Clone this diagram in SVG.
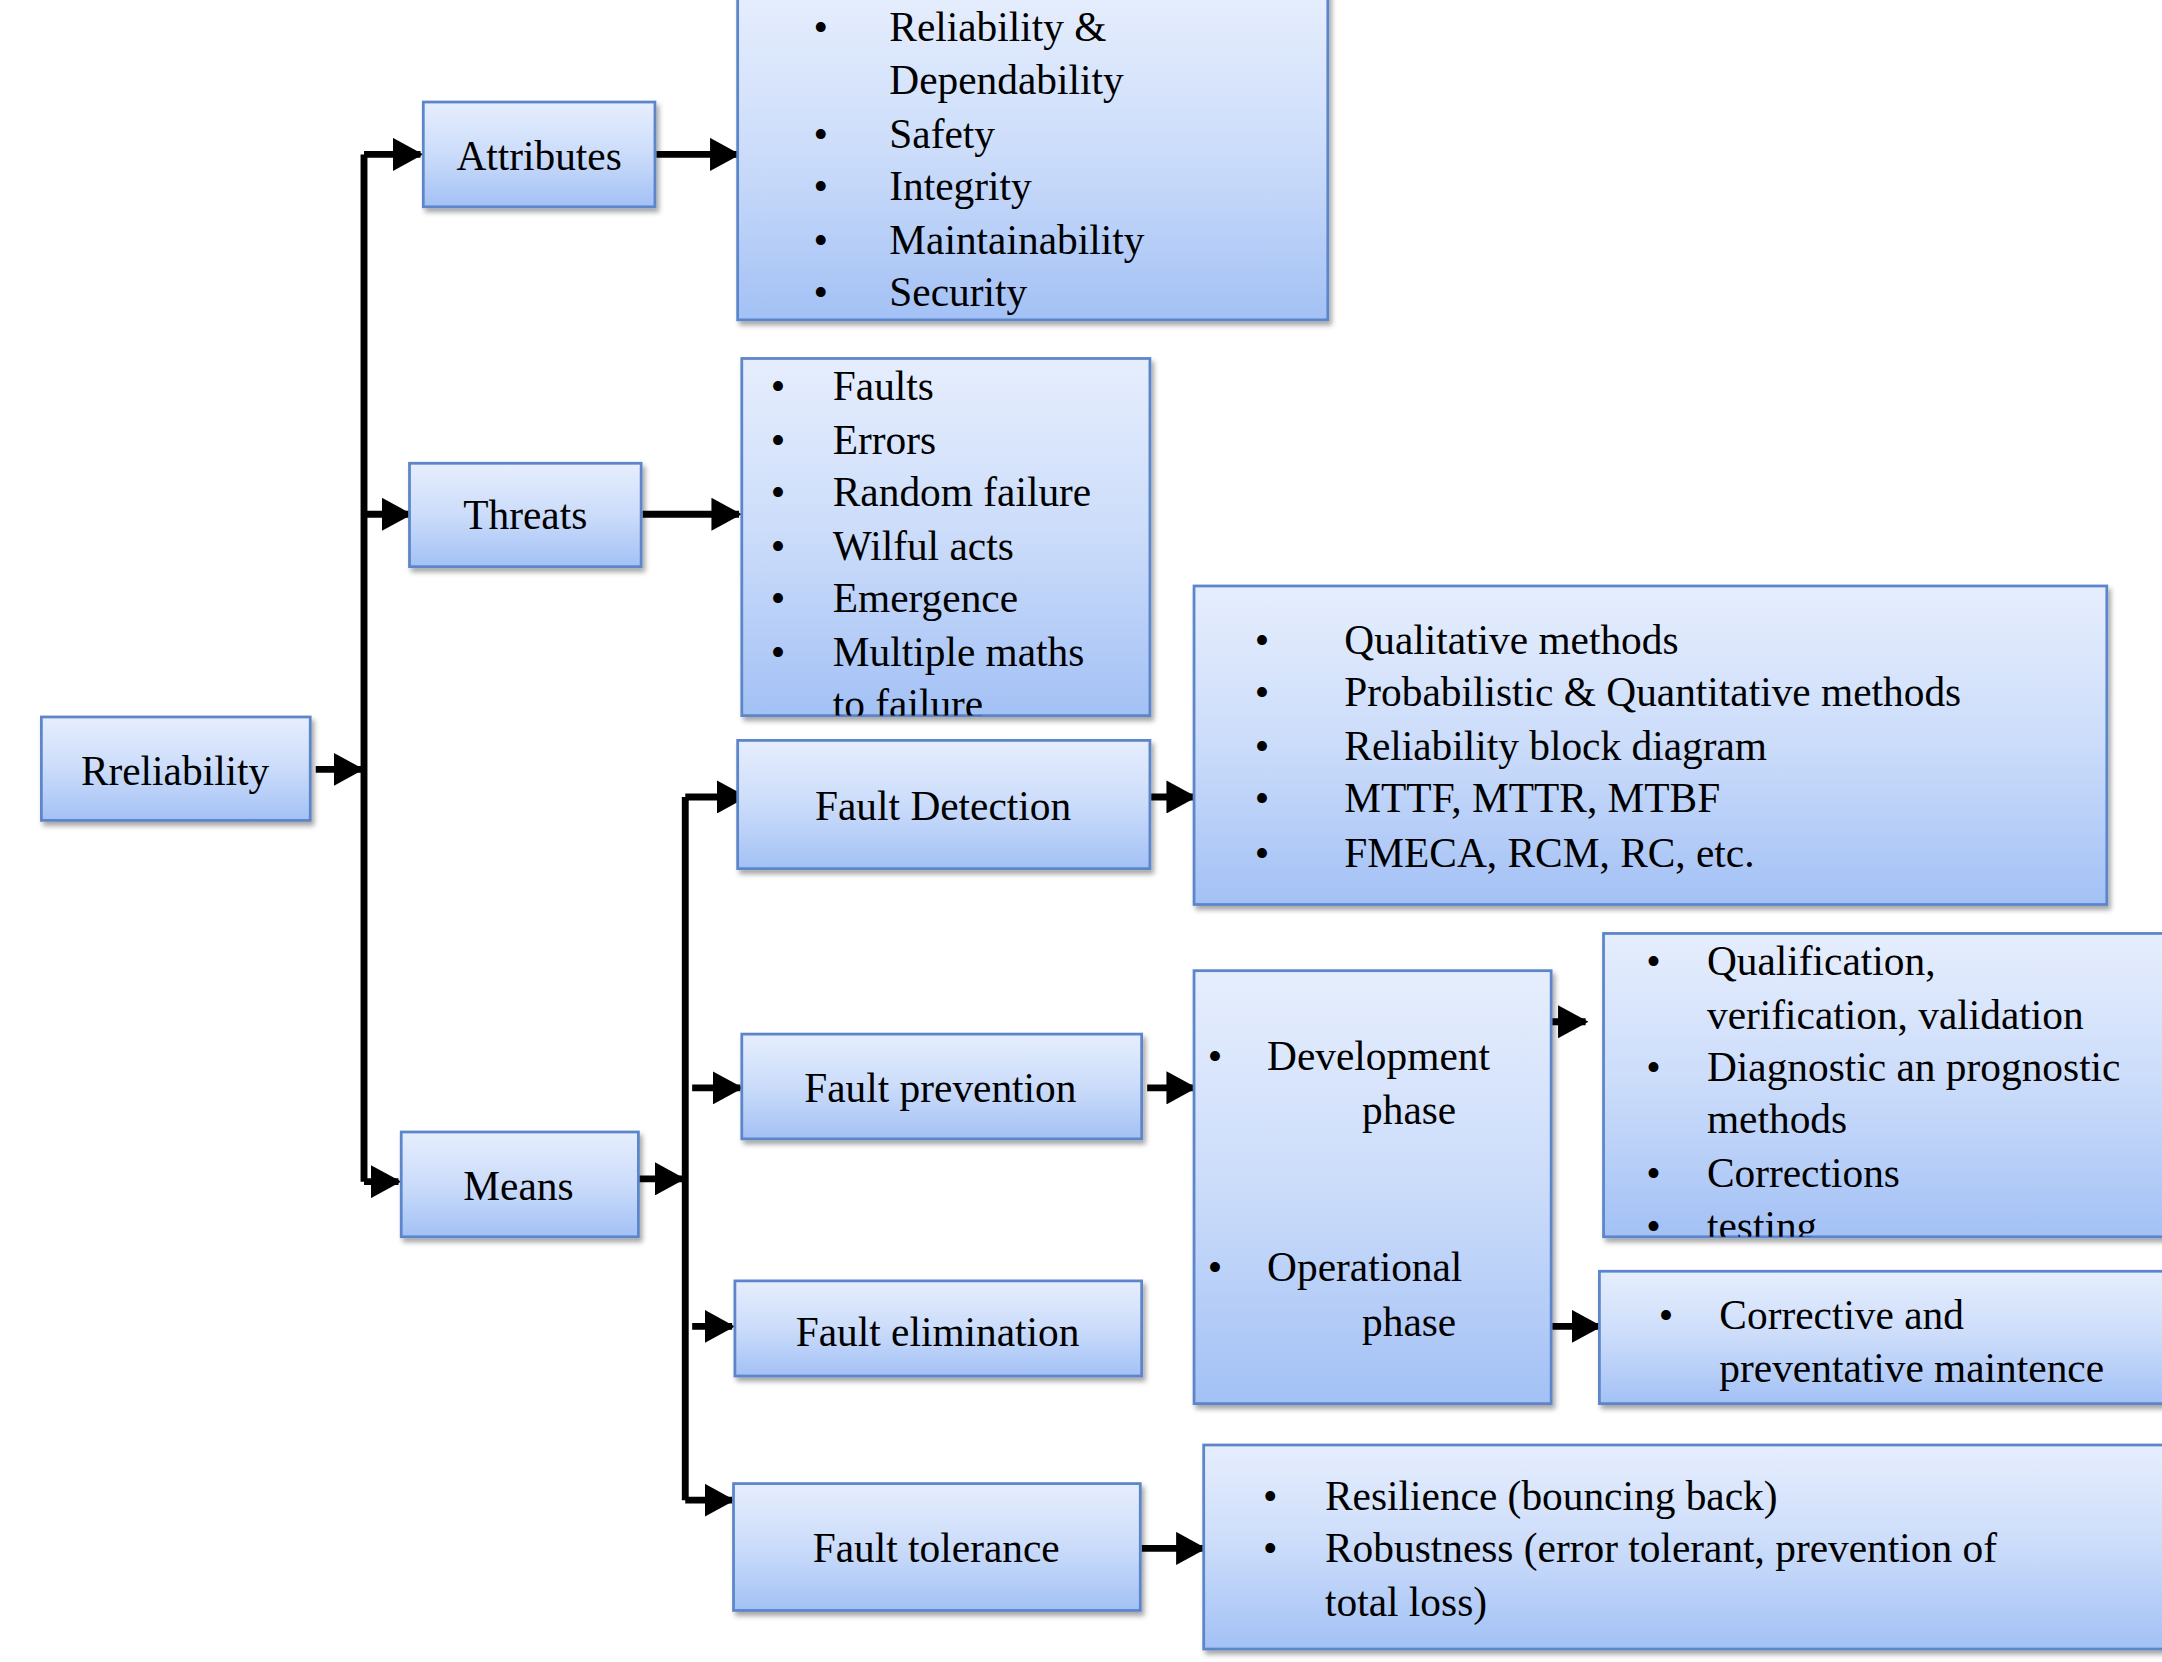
<svg xmlns="http://www.w3.org/2000/svg" width="2162" height="1662" viewBox="0 0 2162 1662">
<defs>
<linearGradient id="g" x1="0" y1="0" x2="0" y2="1"><stop offset="0" stop-color="#e6eefd"/><stop offset="0.5" stop-color="#cbdcfa"/><stop offset="1" stop-color="#a3c1f5"/></linearGradient>
<filter id="sh" x="-5%" y="-5%" width="115%" height="120%"><feDropShadow dx="2" dy="3" stdDeviation="2" flood-color="#000" flood-opacity="0.35"/></filter>
<marker id="ah" markerUnits="userSpaceOnUse" markerWidth="22" markerHeight="24" refX="20" refY="12" orient="auto"><path d="M0,0 L22,12 L0,24 Z" fill="#000"/></marker>
<clipPath id="cThr"><rect x="538" y="260" width="296" height="259"/></clipPath>
<clipPath id="cQual"><rect x="1163" y="677" width="420" height="220"/></clipPath>
</defs>
<style>
.b{fill:url(#g);stroke:#5b86c9;stroke-width:2;filter:url(#sh)}
text{font-family:"Liberation Serif","Times New Roman",serif;font-size:30px;fill:#000}
.c{text-anchor:middle}
.l{fill:none;stroke:#000;stroke-width:5}
.a{fill:none;stroke:#000;stroke-width:5;marker-end:url(#ah)}
</style>
<g transform="scale(1.3788)">
<g id="connectors">
<path class="l" d="M264,112 V857"/>
<path class="a" d="M264,112 H305"/>
<path class="a" d="M264,373 H297"/>
<path class="a" d="M264,857 H289"/>
<path class="a" d="M229,558 H262"/>
<path class="a" d="M476,112 H535"/>
<path class="a" d="M466,373 H536"/>
<path class="a" d="M463,855 H495"/>
<path class="l" d="M497,578 V1088"/>
<path class="a" d="M497,578 H540"/>
<path class="a" d="M502,789 H537"/>
<path class="a" d="M502,962 H531"/>
<path class="a" d="M497,1088 H531"/>
<path class="a" d="M834,578 H866"/>
<path class="a" d="M832,789 H866"/>
<path class="a" d="M1091,741 H1150"/>
<path class="a" d="M1102,962 H1160"/>
<path class="a" d="M828,1123 H873"/>
</g>
<g id="rreliability"><rect class="b" x="30" y="520" width="195" height="75"/><text class="c" x="127" y="569">Rreliability</text></g>
<g id="attributes"><rect class="b" x="307" y="74" width="168" height="76"/><text class="c" x="391" y="123">Attributes</text></g>
<g id="attr-list"><rect class="b" x="535" y="-5" width="428" height="237"/>
<text x="590" y="30">•</text><text x="645" y="30">Reliability &amp;</text>
<text x="645" y="68">Dependability</text>
<text x="590" y="107">•</text><text x="645" y="107">Safety</text>
<text x="590" y="145">•</text><text x="645" y="145">Integrity</text>
<text x="590" y="184">•</text><text x="645" y="184">Maintainability</text>
<text x="590" y="222">•</text><text x="645" y="222">Security</text></g>
<g id="threats"><rect class="b" x="297" y="336" width="168" height="75"/><text class="c" x="381" y="384">Threats</text></g>
<g id="threat-list"><rect class="b" x="538" y="260" width="296" height="259"/>
<g clip-path="url(#cThr)">
<text x="559" y="290">•</text><text x="604" y="290">Faults</text>
<text x="559" y="329">•</text><text x="604" y="329">Errors</text>
<text x="559" y="367">•</text><text x="604" y="367">Random failure</text>
<text x="559" y="406">•</text><text x="604" y="406">Wilful acts</text>
<text x="559" y="444">•</text><text x="604" y="444">Emergence</text>
<text x="559" y="483">•</text><text x="604" y="483">Multiple maths</text>
<text x="604" y="521">to failure</text></g></g>
<g id="means"><rect class="b" x="291" y="821" width="172" height="76"/><text class="c" x="376" y="870">Means</text></g>
<g id="fault-detection"><rect class="b" x="535" y="537" width="299" height="93"/><text class="c" x="684" y="595">Fault Detection</text></g>
<g id="fd-list"><rect class="b" x="866" y="425" width="662" height="231"/>
<text x="910" y="474">•</text><text x="975" y="474">Qualitative methods</text>
<text x="910" y="512">•</text><text x="975" y="512">Probabilistic  &amp; Quantitative methods</text>
<text x="910" y="551">•</text><text x="975" y="551">Reliability block diagram</text>
<text x="910" y="589">•</text><text x="975" y="589">MTTF, MTTR, MTBF</text>
<text x="910" y="629">•</text><text x="975" y="629">FMECA, RCM, RC, etc.</text></g>
<g id="fault-prevention"><rect class="b" x="538" y="750" width="290" height="76"/><text class="c" x="682" y="799">Fault prevention</text></g>
<g id="phases"><rect class="b" x="866" y="704" width="259" height="314"/>
<text x="876" y="776">•</text><text x="919" y="776">Development</text>
<text class="c" x="1022" y="815">phase</text>
<text x="876" y="929">•</text><text x="919" y="929">Operational</text>
<text class="c" x="1022" y="969">phase</text></g>
<g id="dev-list"><rect class="b" x="1163" y="677" width="420" height="220"/>
<g clip-path="url(#cQual)">
<text x="1194" y="707">•</text><text x="1238" y="707">Qualification,</text>
<text x="1238" y="746">verification, validation</text>
<text x="1194" y="784">•</text><text x="1238" y="784">Diagnostic an prognostic</text>
<text x="1238" y="822">methods</text>
<text x="1194" y="861">•</text><text x="1238" y="861">Corrections</text>
<text x="1194" y="899">•</text><text x="1238" y="899">testing</text></g></g>
<g id="op-list"><rect class="b" x="1160" y="922" width="420" height="96"/>
<text x="1203" y="964">•</text><text x="1247" y="964">Corrective and</text>
<text x="1247" y="1002">preventative maintence</text></g>
<g id="fault-elimination"><rect class="b" x="533" y="929" width="295" height="69"/><text class="c" x="680" y="976">Fault elimination</text></g>
<g id="fault-tolerance"><rect class="b" x="532" y="1076" width="295" height="92"/><text class="c" x="679" y="1133">Fault tolerance</text></g>
<g id="ft-list"><rect class="b" x="873" y="1048" width="710" height="148"/>
<text x="916" y="1095">•</text><text x="961" y="1095">Resilience (bouncing back)</text>
<text x="916" y="1133">•</text><text x="961" y="1133">Robustness  (error tolerant, prevention of</text>
<text x="961" y="1172">total loss)</text></g>
</g>
</svg>
